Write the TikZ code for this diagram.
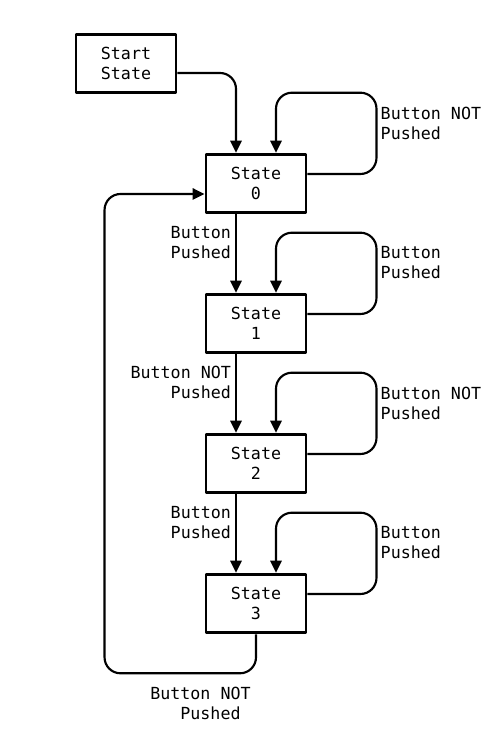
\documentclass[tikz,border=0pt]{standalone}
\usepackage{fontspec}
\setmainfont{DejaVu Sans Mono}
\usetikzlibrary{arrows.meta,calc}
\begin{document}
\begin{tikzpicture}[x=0.75pt,y=0.75pt,>={Triangle[length=9pt,width=8.5pt]},line join=round,
	font=\fontsize{12.5}{15}\selectfont,
	box/.style={draw,line width=2.2pt,minimum width=75pt,minimum height=44pt,align=center,inner sep=0pt},
	arr/.style={->,line width=1.6pt,rounded corners=12pt},
	lbl/.style={inner sep=0pt,align=left}]
	\useasboundingbox (0,0) rectangle (493,737);
	\node[box] (start) at (126,673.5) {Start\\State};
	\foreach \i/\y in {0/553.5,1/413.5,2/273.5,3/133.5}
		\node[box] (s\i) at (256,\y) {State\\\i};
	\draw[arr] ($(start.east)+(0,-9.5)$) -| ($(s0.north)+(-20,0)$);
	% self loops
	\foreach \i/\t in {0/{Button NOT\\Pushed},1/{Button\\Pushed},2/{Button NOT\\Pushed},3/{Button\\Pushed}}{
		\draw[arr] ($(s\i.east)+(0,9.5)$) -- ++(69,0) |- ($(s\i.north)+(20,60)$) -- ($(s\i.north)+(20,0)$);
		\node[lbl,anchor=west] (loop\i) at ($(s\i.east)+(73,60.5)$) {\t};
	}
	\foreach \a/\b/\t in {0/1/{Button\\Pushed},1/2/{Button NOT\\Pushed},2/3/{Button\\Pushed}}
		\draw[arr] ($(s\a.south)+(-20,0)$) -- node[lbl,align=right,anchor=east,pos=.36,xshift=-3pt] (e\a) {\t} ($(s\b.north)+(-20,0)$);
	% back to state 0
	\draw[arr] (s3.south) -- ++(0,-39) -| ($(s0.west)+(-100,-10.5)$) -- ($(s0.west)+(0,-10.5)$);
	\node[lbl,anchor=west] (back) at (150,34) {Button NOT\\\phantom{But}Pushed};
\end{tikzpicture}
\end{document}
